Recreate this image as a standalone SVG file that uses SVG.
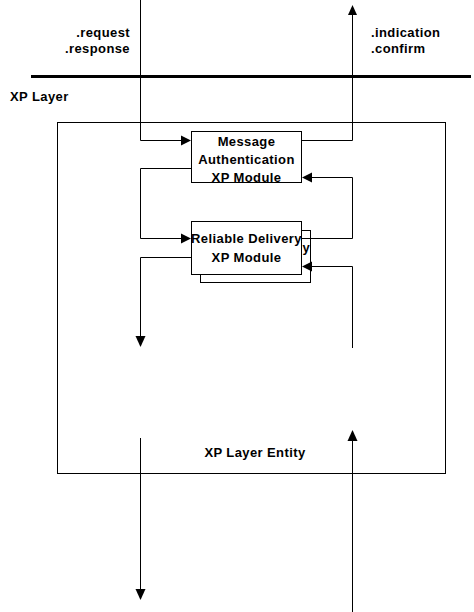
<svg xmlns="http://www.w3.org/2000/svg" width="474" height="612" viewBox="0 0 474 612">
<style>
.ln{fill:none;stroke:#000;stroke-width:1}
.bx{fill:#fff;stroke:#000;stroke-width:1}
.t{font-family:"Liberation Sans",Arial,sans-serif;font-size:13px;font-weight:bold;letter-spacing:0.4px;fill:#000}
.c{text-anchor:middle}
.r{text-anchor:end}
.ah{fill:#000;stroke:none}
</style>
<rect width="474" height="612" fill="#fff"/>
<g id="layer">
<line x1="31" y1="76.5" x2="471" y2="76.5" stroke="#000" stroke-width="3"/>
<text class="t" x="10" y="101">XP Layer</text>
</g>
<g id="labels">
<text class="t r" x="130" y="37">.request</text>
<text class="t r" x="130" y="53">.response</text>
<text class="t" x="371" y="37">.indication</text>
<text class="t" x="371" y="53">.confirm</text>
</g>
<g id="entity">
<rect class="bx" x="57.5" y="122.5" width="388" height="351"/>
<text class="t c" x="255" y="457">XP Layer Entity</text>
</g>
<g id="msg-auth">
<rect class="bx" x="191.5" y="131.5" width="110" height="51"/>
<text class="t c" x="246.5" y="145.5">Message</text>
<text class="t c" x="246.5" y="163.5">Authentication</text>
<text class="t c" x="246.5" y="181.5">XP Module</text>
</g>
<g id="reliable-delivery">
<rect class="bx" x="200.5" y="230.5" width="110" height="52"/>
<text class="t" x="302.5" y="252">y</text>
<rect class="bx" x="191.5" y="221.5" width="110" height="53"/>
<text class="t c" x="246.5" y="243">Reliable Delivery</text>
<text class="t c" x="246.5" y="261.5">XP Module</text>
</g>
<g id="connectors">
<polyline class="ln" points="140.5,0 140.5,140.5 182,140.5"/>
<polygon class="ah" points="181,135.5 191,140.5 181,145.5"/>
<polyline class="ln" points="302,140.5 352.5,140.5 352.5,14"/>
<polygon class="ah" points="348,15 352.5,5 357,15"/>
<polyline class="ln" points="191,168.5 140.5,168.5 140.5,238.5 182,238.5"/>
<polygon class="ah" points="181,233.5 191,238.5 181,243.5"/>
<polyline class="ln" points="302,238.5 352.5,238.5 352.5,177.5 311,177.5"/>
<polygon class="ah" points="312,172.5 302,177.5 312,182.5"/>
<polyline class="ln" points="191,257.5 140.5,257.5 140.5,337"/>
<polygon class="ah" points="135.5,336 145.5,336 140.5,347"/>
<polyline class="ln" points="352.5,348 352.5,266.5 311,266.5"/>
<polygon class="ah" points="312,261.5 302,266.5 312,271.5"/>
<line class="ln" x1="140.5" y1="438" x2="140.5" y2="590"/>
<polygon class="ah" points="135.5,589 145.5,589 140.5,600"/>
<line class="ln" x1="352.5" y1="612" x2="352.5" y2="440"/>
<polygon class="ah" points="347.5,441 357.5,441 352.5,430"/>
</g>
</svg>
